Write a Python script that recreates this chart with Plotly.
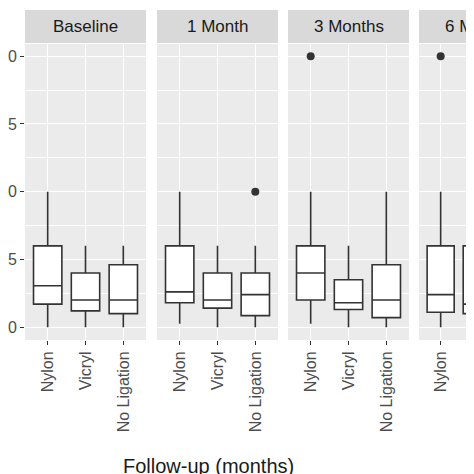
import plotly.graph_objects as go

panels = ["Baseline", "1 Month", "3 Months", "6 Months"]
groups = ["Nylon", "Vicryl", "No Ligation"]
q1 = [[1.7, 1.2, 1.0], [1.8, 1.4, 0.85], [2.0, 1.3, 0.7], [1.1, 1.0, 0.9]]
med = [[3.05, 2.0, 2.0], [2.6, 2.0, 2.4], [4.0, 1.8, 2.0], [2.4, 1.7, 1.8]]
q3 = [[6.0, 4.0, 4.6], [6.0, 4.0, 4.0], [6.0, 3.5, 4.6], [6.0, 6.0, 5.0]]
lo = [[0.0, 0.0, 0.0], [0.25, 0.0, 0.0], [0.25, 0.0, 0.0], [0.0, -0.5, 0.0]]
hi = [[10.0, 6.0, 6.0], [10.0, 6.0, 6.0], [10.0, 6.0, 10.0], [10.0, 10.0, 10.0]]
outliers = [[], [("No Ligation", 10.0)], [("Nylon", 20.0)], [("Nylon", 20.0)]]
yticks = [0, 5, 10, 15, 20]

W, H = 474, 474
L, B = 17, 142
pw = W - L
ph = H - B
px_dom = [(0, 121), (132, 253), (263, 384), (394, 457)]
ytop = (ph - 36) / ph

fig = go.Figure()
layout = dict(width=W, height=H, margin=dict(l=L, r=0, t=0, b=B),
              paper_bgcolor="white", plot_bgcolor="#EBEBEB", showlegend=False,
              font=dict(family="Liberation Sans, Arial", color="#4D4D4D"))
shapes, annots = [], []
for i, p in enumerate(panels):
    ax = "" if i == 0 else str(i + 1)
    d0, d1 = px_dom[i][0] / pw, px_dom[i][1] / pw
    rng = [-0.6, 2.6] if i < 3 else [-0.6, -0.6 + 3.2 * 66 / 121]
    layout["xaxis" + ax] = dict(domain=[d0, d1], anchor="y" + ax, type="category",
                                categoryorder="array", categoryarray=groups, range=rng,
                                tickangle=-90, ticks="outside", ticklen=4, tickcolor="#333",
                                tickfont=dict(size=16, color="#4D4D4D"),
                                showgrid=True, gridcolor="white", gridwidth=1.2,
                                zeroline=False, showline=False, automargin=False)
    layout["yaxis" + ax] = dict(domain=[0, ytop], anchor="x" + ax, range=[-0.95, 20.9],
                                tickvals=yticks, showticklabels=(i == 0),
                                ticks="outside" if i == 0 else "", ticklen=4, tickcolor="#333",
                                tickfont=dict(size=16, color="#4D4D4D"),
                                gridcolor="white", gridwidth=1.2, zeroline=False,
                                minor=dict(tickvals=[2.5, 7.5, 12.5, 17.5], showgrid=True,
                                           gridcolor="white", gridwidth=0.6),
                                automargin=False)
    fig.add_trace(go.Box(x=groups, q1=q1[i], median=med[i], q3=q3[i],
                         lowerfence=lo[i], upperfence=hi[i], boxpoints=False,
                         width=0.75, whiskerwidth=0, fillcolor="white",
                         line=dict(color="#333333", width=1.6),
                         xaxis="x" + ax, yaxis="y" + ax))
    if outliers[i]:
        fig.add_trace(go.Scatter(x=[o[0] for o in outliers[i]], y=[o[1] for o in outliers[i]],
                                 mode="markers", marker=dict(color="#333333", size=8),
                                 xaxis="x" + ax, yaxis="y" + ax, cliponaxis=False))
    shapes.append(dict(type="rect", xref="paper", yref="paper", x0=d0, x1=d1,
                       y0=(ph - 35) / ph, y1=(ph - 2) / ph, fillcolor="#D9D9D9", line=dict(width=0)))
    annots.append(dict(text=p, xref="paper", yref="paper",
                       x=(d0 + (px_dom[i][0] + 121) / pw) / 2 if i == 3 else (d0 + d1) / 2,
                       y=(ph - 18.5) / ph, showarrow=False, xanchor="center", yanchor="middle",
                       font=dict(size=17, color="#1A1A1A")))
annots.append(dict(text="Follow-up (months)", xref="paper", yref="paper",
                   x=(200 - L) / pw, y=-(458 - ph) / ph, showarrow=False,
                   xanchor="center", yanchor="middle", font=dict(size=20, color="#1A1A1A")))
layout["shapes"] = shapes
layout["annotations"] = annots
fig.update_layout(**layout)
fig.write_html("out.html")
